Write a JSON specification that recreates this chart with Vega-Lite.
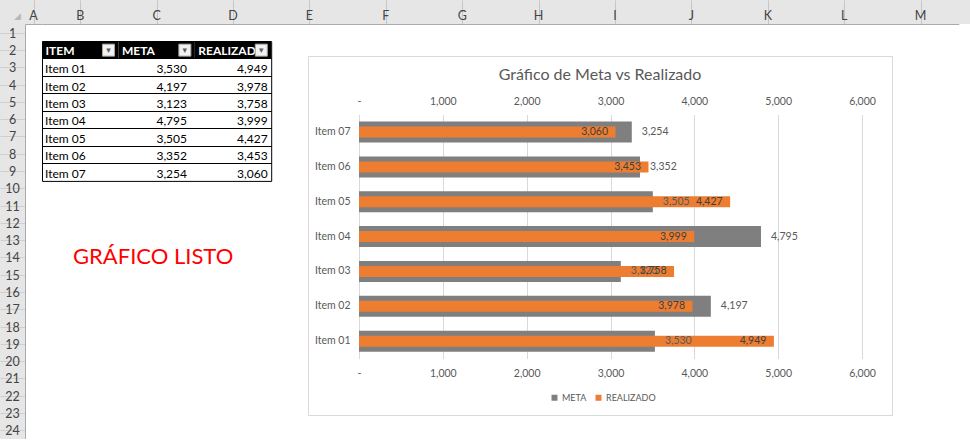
{
  "$schema": "https://vega.github.io/schema/vega-lite/v6.json",
  "padding": 0,
  "autosize": {"type": "pad"},
  "background": "white",
  "config": {
    "font": "Lato",
    "view": {"stroke": null},
    "axis": {"labelFont": "Lato"},
    "legend": {"labelFont": "Lato"}
  },
  "datasets": {
    "tabla": [
      {"item": "Item 01", "META": 3530, "REALIZADO": 4949},
      {"item": "Item 02", "META": 4197, "REALIZADO": 3978},
      {"item": "Item 03", "META": 3123, "REALIZADO": 3758},
      {"item": "Item 04", "META": 4795, "REALIZADO": 3999},
      {"item": "Item 05", "META": 3505, "REALIZADO": 4427},
      {"item": "Item 06", "META": 3352, "REALIZADO": 3453},
      {"item": "Item 07", "META": 3254, "REALIZADO": 3060}
    ],
    "encabezados": [{"col": "ITEM"}, {"col": "META"}, {"col": "REALIZADO"}],
    "filas": [
      {"fila": 1}, {"fila": 2}, {"fila": 3}, {"fila": 4}, {"fila": 5}, {"fila": 6},
      {"fila": 7}, {"fila": 8}, {"fila": 9}, {"fila": 10}, {"fila": 11}, {"fila": 12},
      {"fila": 13}, {"fila": 14}, {"fila": 15}, {"fila": 16}, {"fila": 17}, {"fila": 18},
      {"fila": 19}, {"fila": 20}, {"fila": 21}, {"fila": 22}, {"fila": 23}, {"fila": 24}
    ],
    "letras": [
      {"letra": "B"}, {"letra": "C"}, {"letra": "D"}, {"letra": "E"}, {"letra": "F"}, {"letra": "G"},
      {"letra": "H"}, {"letra": "I"}, {"letra": "J"}, {"letra": "K"}, {"letra": "L"}, {"letra": "M"}
    ]
  },
  "spacing": 0,
  "vconcat": [
    {
      "spacing": 0,
      "bounds": "flush",
      "hconcat": [
        {
          "width": 25,
          "height": 24,
          "view": {"fill": "#e6e6e6", "stroke": null},
          "data": {"values": [{}]},
          "mark": {"type": "text", "text": "◢", "font": "DejaVu Sans", "fontSize": 9, "color": "#b8b8b8", "dx": 5, "dy": 4},
          "encoding": {}
        },
        {
          "width": 17,
          "height": 24,
          "view": {"fill": "#e6e6e6", "stroke": null},
          "data": {"values": [{"letra": "A"}]},
          "mark": {"type": "text", "fontSize": 12.5, "color": "#444444", "dy": 4},
          "encoding": {
            "x": {
              "field": "letra", "type": "nominal",
              "scale": {"paddingInner": 0, "paddingOuter": 0},
              "axis": {"orient": "bottom", "labels": false, "ticks": false, "domain": true, "domainColor": "#ababab", "grid": true, "gridColor": "#c6c6c6", "bandPosition": 1, "title": null}
            },
            "text": {"field": "letra"}
          }
        },
        {
          "width": 928,
          "height": 24,
          "view": {"fill": "#e6e6e6", "stroke": null},
          "data": {"name": "letras"},
          "mark": {"type": "text", "fontSize": 12.5, "color": "#444444", "dy": 4},
          "encoding": {
            "x": {
              "field": "letra", "type": "nominal",
              "scale": {"range": [0, 916.8], "paddingInner": 0, "paddingOuter": 0},
              "axis": {"orient": "bottom", "labels": false, "ticks": false, "domain": true, "domainColor": "#ababab", "grid": true, "gridColor": "#c6c6c6", "bandPosition": 1, "title": null}
            },
            "text": {"field": "letra"}
          }
        }
      ]
    },
    {
      "spacing": 0,
      "bounds": "flush",
      "hconcat": [
        {
          "width": 25,
          "height": 415,
          "view": {"fill": "#e6e6e6", "stroke": null},
          "data": {"name": "filas"},
          "mark": {"type": "text", "fontSize": 12.5, "color": "#444444", "dy": 1, "clip": true},
          "encoding": {
            "y": {
              "field": "fila", "type": "ordinal",
              "scale": {"paddingInner": 0, "paddingOuter": 0},
              "axis": {"orient": "right", "labels": false, "ticks": false, "domain": true, "domainColor": "#ababab", "grid": true, "gridColor": "#cfcfcf", "bandPosition": 0, "title": null}
            },
            "text": {"field": "fila"}
          }
        },
        {
          "width": 283,
          "height": 415,
          "view": {"stroke": null},
          "title": {
            "text": "GRÁFICO LISTO", "orient": "top", "anchor": "start", "frame": "group",
            "offset": -262, "baseline": "alphabetic", "dx": 48,
            "font": "Lato", "fontSize": 22, "fontWeight": "normal", "color": "#ff0000"
          },
          "layer": [
            {
              "data": {"name": "encabezados"},
              "mark": {"type": "rect", "color": "#000000"},
              "encoding": {
                "x": {
                  "field": "col", "type": "nominal",
                  "scale": {"domain": ["ITEM", "META", "REALIZADO"], "range": [17, 246.2], "paddingInner": 0, "paddingOuter": 0},
                  "axis": {"orient": "bottom", "offset": -258.1, "labels": false, "ticks": false, "domain": true, "domainColor": "#000000", "grid": false, "title": null}
                },
                "y": {
                  "datum": "ITEM", "type": "nominal",
                  "scale": {"domain": ["ITEM", "Item 01", "Item 02", "Item 03", "Item 04", "Item 05", "Item 06", "Item 07"], "range": [17.43, 156.9], "paddingInner": 0, "paddingOuter": 0},
                  "axis": {"orient": "left", "offset": -17, "labels": false, "ticks": false, "domain": true, "domainColor": "#000000", "grid": true, "gridColor": "#000000", "bandPosition": 0, "title": null}
                }
              }
            },
            {
              "data": {"name": "encabezados"},
              "mark": {"type": "text", "align": "left", "baseline": "middle", "dx": 3.5, "dy": 1, "fontWeight": "bold", "fontSize": 12, "color": "#ffffff"},
              "encoding": {
                "x": {"field": "col", "type": "nominal", "bandPosition": 0, "axis": null},
                "y": {
                  "datum": "ITEM", "type": "nominal",
                  "axis": {"orient": "right", "offset": -36.8, "labels": false, "ticks": false, "domain": true, "domainColor": "#000000", "grid": false, "title": null}
                },
                "text": {"field": "col"}
              }
            },
            {
              "data": {"name": "encabezados"},
              "mark": {"type": "square", "filled": true, "color": "#f2f2f2", "stroke": "#a6a6a6", "strokeWidth": 1, "size": 144, "opacity": 1},
              "encoding": {
                "x": {"field": "col", "type": "nominal", "bandPosition": 0.87, "axis": null},
                "y": {"datum": "ITEM", "type": "nominal", "axis": null}
              }
            },
            {
              "data": {"name": "encabezados"},
              "mark": {"type": "text", "text": "▾", "font": "DejaVu Sans", "fontSize": 9, "color": "#5f5f5f", "baseline": "middle"},
              "encoding": {
                "x": {"field": "col", "type": "nominal", "bandPosition": 0.87, "axis": null},
                "y": {"datum": "ITEM", "type": "nominal", "axis": null}
              }
            },
            {
              "data": {"name": "tabla"},
              "mark": {"type": "text", "align": "left", "baseline": "middle", "dx": -35.2, "dy": 1.5, "fontSize": 12, "color": "#000000"},
              "encoding": {
                "x": {"datum": "ITEM", "type": "nominal", "axis": null},
                "y": {"field": "item", "type": "nominal", "axis": null},
                "text": {"field": "item"}
              }
            },
            {
              "data": {"name": "tabla"},
              "mark": {"type": "text", "align": "right", "baseline": "middle", "dx": 30.4, "dy": 1.5, "fontSize": 12, "color": "#000000"},
              "encoding": {
                "x": {"datum": "META", "type": "nominal", "axis": null},
                "y": {"field": "item", "type": "nominal", "axis": null},
                "text": {"field": "META", "type": "quantitative", "format": ",.0f"}
              }
            },
            {
              "data": {"name": "tabla"},
              "mark": {"type": "text", "align": "right", "baseline": "middle", "dx": 34.7, "dy": 1.5, "fontSize": 12, "color": "#000000"},
              "encoding": {
                "x": {"datum": "REALIZADO", "type": "nominal", "axis": null},
                "y": {"field": "item", "type": "nominal", "axis": null},
                "text": {"field": "REALIZADO", "type": "quantitative", "format": ",.0f"}
              }
            }
          ],
          "resolve": {"axis": {"x": "independent", "y": "independent"}}
        },
        {
          "spacing": 0,
          "bounds": "flush",
          "vconcat": [
            {
              "width": 584,
              "height": 32,
              "data": {"values": []},
              "mark": "point",
              "encoding": {}
            },
            {
              "width": 584,
              "height": 359,
              "view": {"stroke": "#d9d9d9", "fill": "#ffffff"},
              "title": {
                "text": "Gráfico de Meta vs Realizado", "orient": "top", "anchor": "middle", "frame": "group",
                "offset": -35, "baseline": "middle",
                "font": "Lato", "fontSize": 16, "fontWeight": "normal", "color": "#595959"
              },
              "data": {"name": "tabla"},
              "layer": [
                {
                  "mark": {"type": "bar", "height": 21},
                  "encoding": {
                    "x": {
                      "field": "META", "type": "quantitative",
                      "scale": {"domain": [0, 6000], "range": [51, 554], "nice": false},
                      "axis": {
                        "orient": "top", "offset": -50, "values": [0, 1000, 2000, 3000, 4000, 5000, 6000],
                        "labelExpr": "datum.value == 0 ? '-' : format(datum.value, ',')",
                        "ticks": false, "tickSize": 0, "labelPadding": 0, "domain": false,
                        "grid": true, "gridColor": "#d9d9d9", "labelColor": "#595959", "labelFontSize": 10.5,
                        "labelFlush": false, "labelOverlap": false, "title": null
                      }
                    },
                    "y": {
                      "field": "item", "type": "nominal",
                      "scale": {"domain": ["Item 07", "Item 06", "Item 05", "Item 04", "Item 03", "Item 02", "Item 01"], "range": [58.6, 302.6], "paddingInner": 0, "paddingOuter": 0},
                      "axis": {
                        "orient": "left", "offset": -51, "labelPadding": 9, "ticks": false, "tickSize": 0,
                        "domain": true, "domainColor": "#d9d9d9", "labelColor": "#595959", "labelFontSize": 10.5,
                        "grid": false, "title": null
                      }
                    },
                    "color": {
                      "datum": "META", "type": "nominal",
                      "scale": {"domain": ["META", "REALIZADO"], "range": ["#7f7f7f", "#ed7d31"]},
                      "legend": {
                        "orient": "none", "legendX": 550, "legendY": 393, "direction": "horizontal", "title": null,
                        "symbolType": "square", "symbolSize": 36, "symbolStrokeWidth": 0,
                        "labelFontSize": 9, "labelColor": "#595959", "columnPadding": 7, "labelOffset": 3
                      }
                    }
                  }
                },
                {
                  "mark": {"type": "bar", "height": 11},
                  "encoding": {
                    "x": {
                      "field": "REALIZADO", "type": "quantitative",
                      "scale": {"domain": [0, 6000], "range": [51, 554], "nice": false},
                      "axis": {
                        "orient": "bottom", "offset": -46.5, "values": [0, 1000, 2000, 3000, 4000, 5000, 6000],
                        "labelExpr": "datum.value == 0 ? '-' : format(datum.value, ',')",
                        "ticks": false, "tickSize": 0, "labelPadding": 0, "domain": false,
                        "grid": false, "labelColor": "#595959", "labelFontSize": 10.5,
                        "labelFlush": false, "labelOverlap": false, "title": null
                      }
                    },
                    "y": {"field": "item", "type": "nominal", "axis": null},
                    "color": {"datum": "REALIZADO", "type": "nominal"}
                  }
                },
                {
                  "mark": {"type": "text", "align": "left", "baseline": "middle", "dx": 10, "fontSize": 10.5, "color": "#595959"},
                  "encoding": {
                    "x": {"field": "META", "type": "quantitative", "axis": null},
                    "y": {"field": "item", "type": "nominal", "axis": null},
                    "text": {"field": "META", "type": "quantitative", "format": ",.0f"}
                  }
                },
                {
                  "mark": {"type": "text", "align": "right", "baseline": "middle", "dx": -7.5, "fontSize": 10.5, "color": "#404040"},
                  "encoding": {
                    "x": {"field": "REALIZADO", "type": "quantitative", "axis": null},
                    "y": {"field": "item", "type": "nominal", "axis": null},
                    "text": {"field": "REALIZADO", "type": "quantitative", "format": ",.0f"}
                  }
                }
              ],
              "resolve": {"axis": {"x": "independent", "y": "independent"}}
            }
          ]
        }
      ]
    }
  ]
}
